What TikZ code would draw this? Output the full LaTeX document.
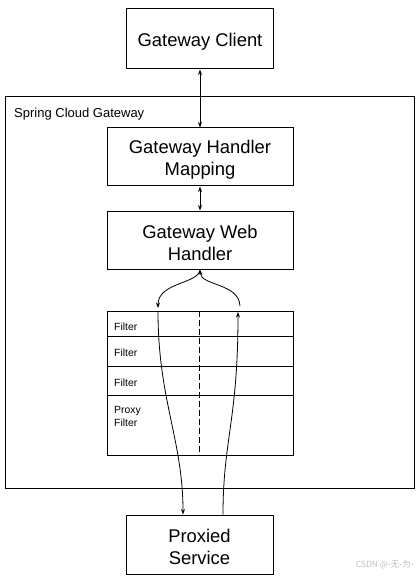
\documentclass[tikz,border=0pt]{standalone}
\usepackage{fontspec}
\setmainfont{Liberation Sans}
\newfontfamily\cjkfont{Noto Sans CJK SC}
\usetikzlibrary{arrows.meta}
\begin{document}
\begin{tikzpicture}[x=1pt,y=-1pt,
  box/.style={draw=black,line width=1pt,fill=white,inner sep=0pt},
  boxtext/.style={label={[align=center,inner sep=0pt,yshift=-2.5pt,
    font=\fontsize{18.4}{22}\selectfont]center:#1}},
  frow/.style={draw=black,line width=1pt,minimum width=186pt,inner sep=0pt},
  flabel/.style={anchor=west,inner sep=0pt,align=left,font=\fontsize{10.4}{13}\selectfont},
  conn/.style={line width=0.8pt,draw=black},
  tip/.style={-{Stealth[length=5.5pt,width=4pt]}},
  dtip/.style={{Stealth[length=5.5pt,width=4pt]}-{Stealth[length=5.5pt,width=4pt]}}]
\useasboundingbox (0,0) rectangle (418,577);
\fill[white] (0,0) rectangle (418,577);
% outer container
\node[draw=black,line width=1pt,minimum width=409pt,minimum height=391pt,inner sep=0pt]
  (outer) at (209.5,292.5) {};
\node[anchor=west,inner sep=0pt,font=\fontsize{13}{15}\selectfont] (title) at (14,114) {Spring Cloud Gateway};
% main boxes
\node[box,minimum width=147pt,minimum height=60pt,boxtext={Gateway Client}] (client) at (200,39) {};
\node[box,minimum width=186pt,minimum height=58pt,boxtext={Gateway Handler\\Mapping}] (mapping) at (200,157) {};
\node[box,minimum width=186pt,minimum height=58pt,boxtext={Gateway Web\\Handler}] (web) at (200,240) {};
\node[box,minimum width=147pt,minimum height=59pt,boxtext={Proxied\\Service}] (proxied) at (199.5,544.5) {};
% filter table
\node[frow,minimum height=25pt] (r1) at (200,323.5) {};
\node[frow,minimum height=30pt] (r2) at (200,351) {};
\node[frow,minimum height=29pt] (r3) at (200,380.5) {};
\node[frow,minimum height=60pt] (r4) at (200,425) {};
\node[flabel] (l1) at (114,326.5) {Filter};
\node[flabel] (l2) at (114,352.5) {Filter};
\node[flabel] (l3) at (114,382.5) {Filter};
\node[flabel,anchor=north west] (l4) at (114,406.5) {Proxy\\Filter};
\draw[line width=0.8pt,dash pattern=on 6pt off 3pt] (r1.north -| 199,0) -- (r4.south -| 199,0);
% connectors
\draw[conn,dtip] (client.south) -- (mapping.north);
\draw[conn,dtip] (mapping.south) -- (web.north);
\coordinate (cl) at (158,308);
\coordinate (cr) at (240,306);
\coordinate (dl) at (158,311);
\coordinate (ur) at (238,312);
\draw[conn,tip] (web.south) .. controls (199,284) and (158,282) .. (cl);
\draw[conn,tip] (cr) .. controls (239,283) and (201,286) .. (web.south);
\draw[conn,tip] (dl) .. controls (158,400) and (183,440) .. ([xshift=-16.5pt]proxied.north);
\draw[conn,tip] ([xshift=23.5pt]proxied.north) .. controls (223,440) and (238,420) .. (ur);
% watermark
\node[anchor=east,inner sep=0pt,text=black!25,font=\cjkfont\fontsize{8.5}{10}\selectfont] (wm) at (414,565) {CSDN @-无-为-};
\end{tikzpicture}
\end{document}
